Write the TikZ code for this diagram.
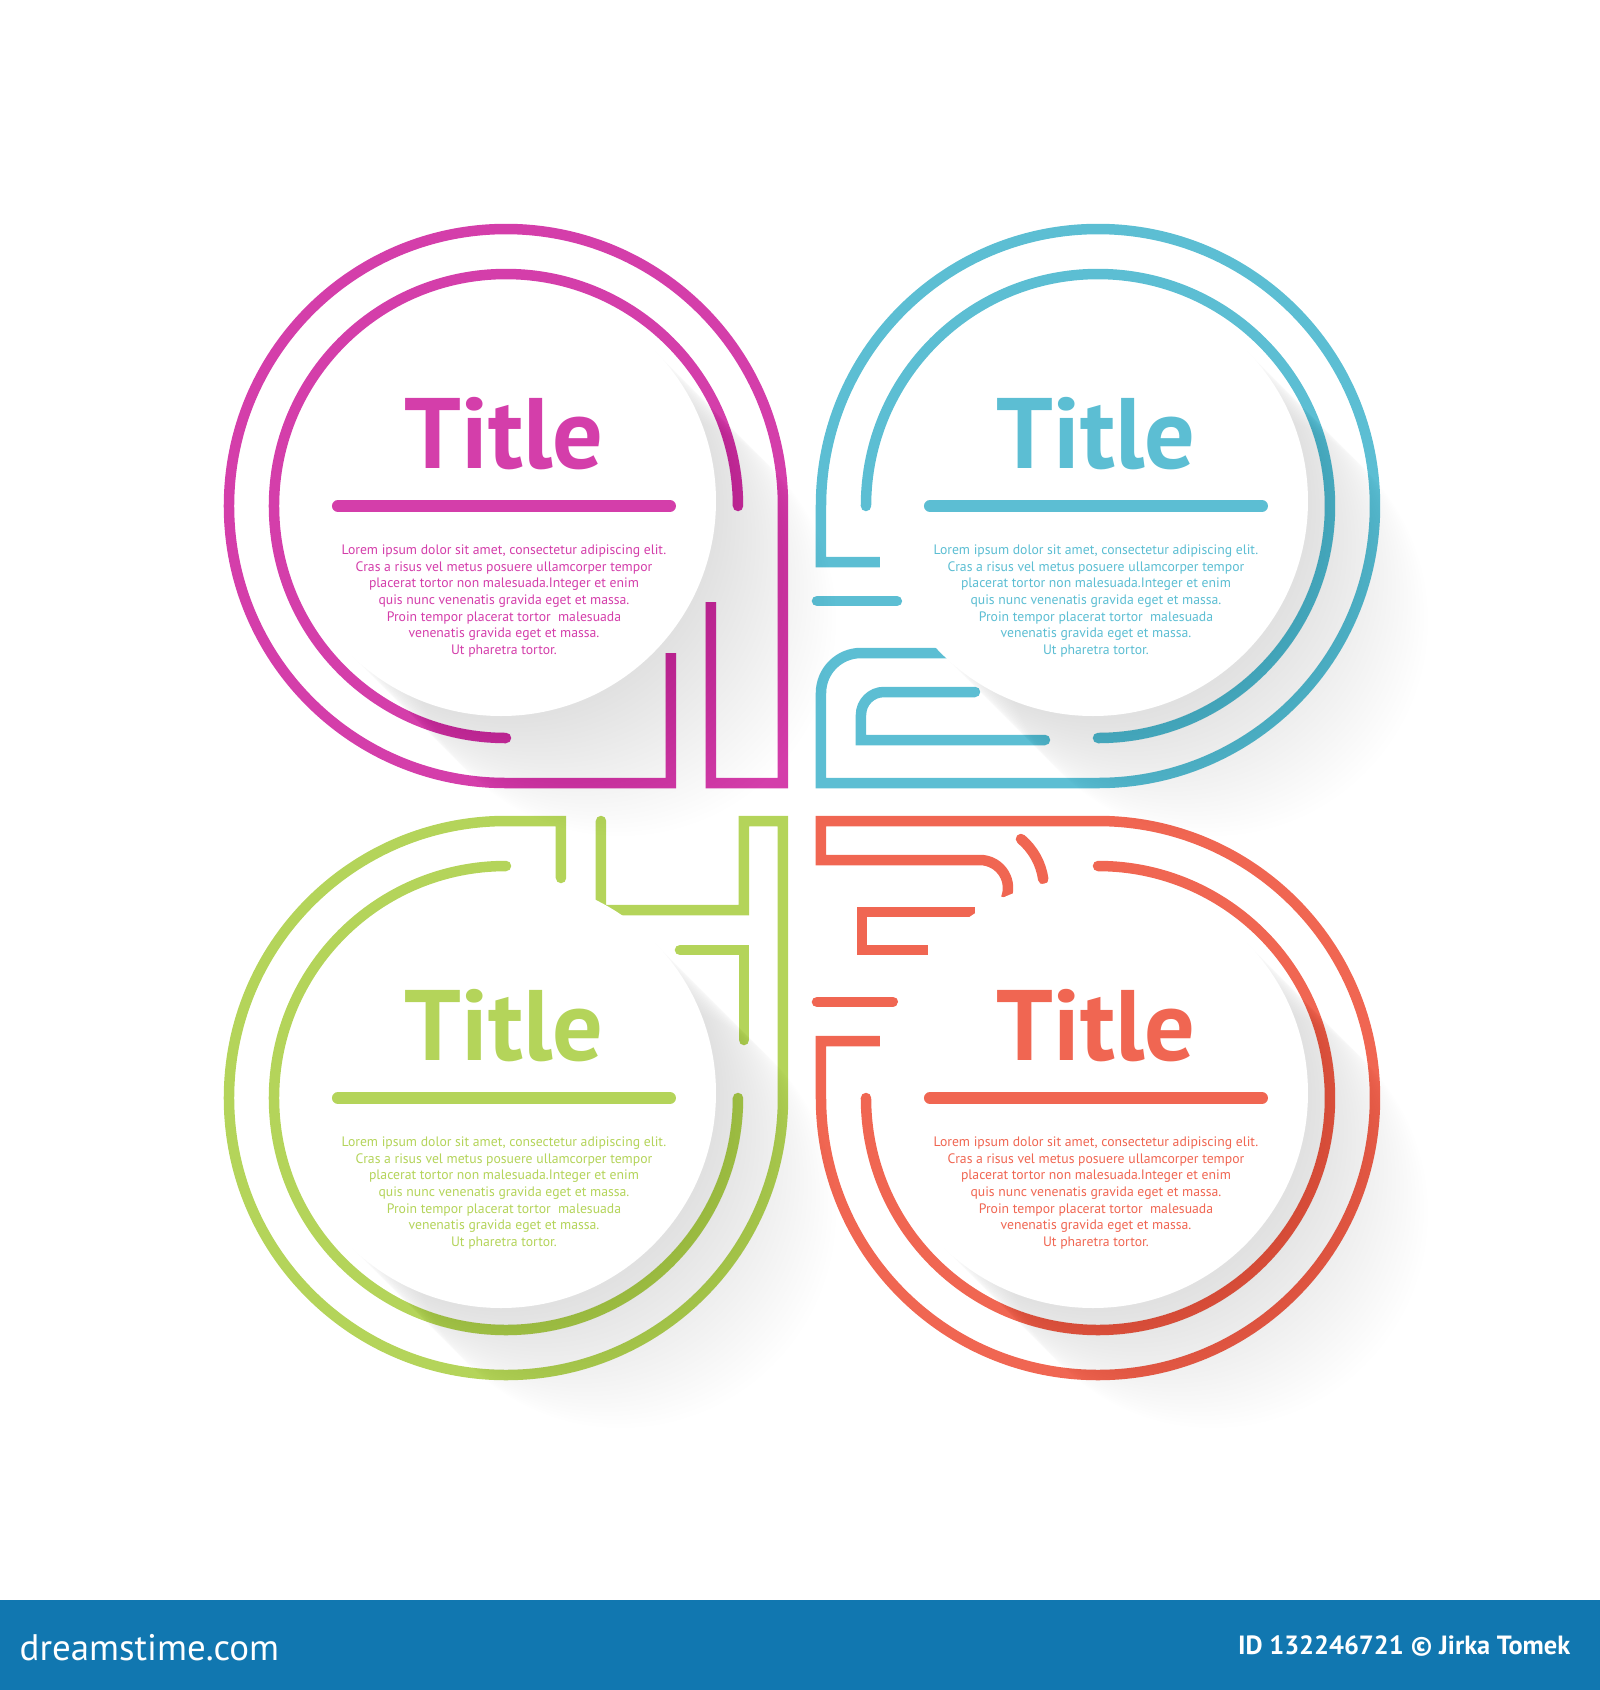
\documentclass[tikz,border=0pt]{standalone}
\usepackage{fontspec}
\setmainfont{PT Sans}
\usetikzlibrary{calc}

\definecolor{pinkc}{RGB}{212,62,170}
\definecolor{bluec}{RGB}{92,190,211}
\definecolor{greenc}{RGB}{180,212,90}
\definecolor{orangec}{RGB}{240,102,82}
\definecolor{barblue}{RGB}{17,119,176}

\newcommand{\loremtext}{Lorem ipsum dolor sit amet, consectetur adipiscing elit.\\
Cras a risus vel metus posuere ullamcorper tempor\\
placerat tortor non malesuada.Integer et enim\\
quis nunc venenatis gravida eget et massa.\\
Proin tempor placerat tortor~ malesuada\\
venenatis gravida eget et massa.\hspace*{0.26cm}\\
Ut pharetra tortor.}

\begin{document}
\begin{tikzpicture}[
    digit/.style={line width=1.05mm, line join=miter},
    ring/.style={line width=1.05mm, line cap=round},
    rule/.style={line width=1.2mm, line cap=round},
    title/.style={font=\fontsize{28.5}{30}\selectfont\bfseries, anchor=base, inner sep=0pt},
    body/.style={font=\fontsize{3.9}{4.75}\selectfont, align=center, anchor=north, inner sep=0pt}
]
\useasboundingbox (-8.02,-8.88) rectangle (7.98,8.02);

% Digit 1
\draw[digit, pinkc] (-1.31,1.49) -- (-1.31,0.19) -- (-2.96,0.19) arc (270:0:2.77)
    -- (-0.19,0.19) -- (-0.91,0.19) -- (-0.91,2.00);
\draw[ring, pinkc] (-0.64,2.96) arc (0:270:2.32);

% Digit 2
\draw[digit, bluec] (0.78,2.40) -- (0.19,2.40) -- (0.19,2.96) arc (180:-90:2.77)
    -- (0.19,0.19) -- (0.19,1.09) arc (180:90:0.40) -- (1.73,1.49);
\draw[digit, bluec, line cap=round] (0.15,2.01) -- (0.95,2.01);
\draw[ring, bluec] (0.64,2.96) arc (180:-90:2.32);
\draw[digit, bluec, line cap=round] (1.73,1.10) -- (0.82,1.10) arc (90:180:0.23)
    -- (0.59,0.62) -- (2.43,0.62);

% Digit 4
\draw[digit, greenc, line cap=round] (-2.41,-0.76) -- (-2.41,-0.19) -- (-2.96,-0.19) arc (90:360:2.77)
    -- (-0.19,-0.19) -- (-0.58,-0.19) -- (-0.58,-1.08) -- (-2.01,-1.08) -- (-2.01,-0.19);
\draw[digit, greenc, line cap=round] (-1.22,-1.48) -- (-0.58,-1.48) -- (-0.58,-2.38);
\draw[ring, greenc] (-2.96,-0.64) arc (90:360:2.32);

% Digit 3
\draw[digit, orangec] (0.78,-2.39) -- (0.19,-2.39) -- (0.19,-2.96) arc (180:450:2.77)
    -- (0.19,-0.19) -- (0.19,-0.58) -- (1.78,-0.58) arc (90:-21:0.28);
\draw[digit, orangec, line cap=round] (2.19,-0.37) arc (50:8:0.64);
\draw[digit, orangec] (1.73,-1.10) -- (0.60,-1.10) -- (0.60,-1.48) -- (1.26,-1.48);
\draw[digit, orangec, line cap=round] (0.15,-2.00) -- (0.91,-2.00);
\draw[ring, orangec] (2.96,-0.64) arc (90:-180:2.32);

% Discs with long shadow and texts
\foreach \cx/\cy/\col/\n in {-2.96/2.96/pinkc/1, 2.96/2.96/bluec/2, -2.96/-2.96/greenc/4, 2.96/-2.96/orangec/3}{
    \foreach \k in {1,...,30}
        \fill[black, fill opacity=0.0056] (\cx-0.05+\k*0.04, \cy+0.05-\k*0.04) circle (2.15);
    \fill[white] (\cx-0.05,\cy+0.05) circle (2.15);
    \node[title, text=\col] (title\n) at (\cx-0.02,\cy+0.38) {Title};
    \coordinate (ruleA\n) at (\cx-1.68,\cy);
    \coordinate (ruleB\n) at (\cx+1.64,\cy);
    \draw[rule, \col] (ruleA\n) -- (ruleB\n);
    \node[body, text=\col] (text\n) at (\cx-0.02,\cy-0.38) {\loremtext};
}

% Bottom bar
\fill[barblue] (-8.02,-7.98) rectangle (7.98,-8.88);
\node[anchor=base west, text=white, inner sep=0pt, font=\fontsize{10.5}{12}\selectfont] (site) at (-7.83,-8.58) {dreamstime.com};
\node[anchor=base east, text=white, inner sep=0pt, font=\fontsize{7.5}{9}\selectfont\bfseries] (credit) at (7.69,-8.52) {ID 132246721 © Jirka Tomek};

\end{tikzpicture}
\end{document}
